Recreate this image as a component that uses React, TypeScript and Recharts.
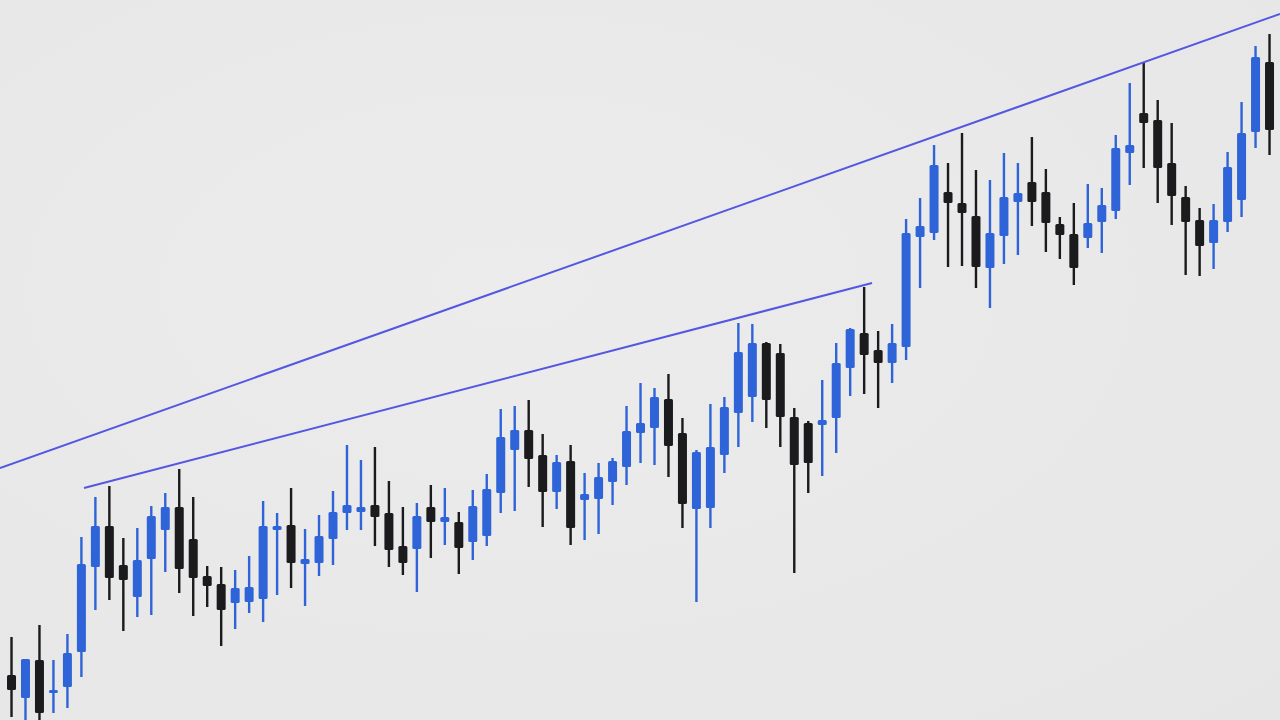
import { Bar, ComposedChart, ReferenceLine, XAxis, YAxis } from 'recharts'

// price levels (arbitrary units, 0 = bottom edge, 720 = top edge)
const opens = [
  45, 22, 60, 27, 33, 68, 153, 194, 155, 123, 161, 190, 213, 181, 144, 136, 117, 118, 121, 190,
  195, 156, 157, 181, 207, 208, 215, 207, 174, 171, 213, 198, 198, 178, 184, 227, 270, 290, 265, 228,
  259, 220, 221, 238, 253, 287, 292, 321, 287, 211, 212, 265, 307, 323, 377, 367, 303, 297, 295, 302,
  352, 387, 370, 357, 373, 483, 487, 528, 517, 504, 452, 484, 518, 538, 528, 496, 486, 482, 498, 509,
  567, 607, 600, 557, 523, 500, 477, 498, 520, 588, 658,
]
const highs = [
  83, 61, 95, 60, 86, 183, 223, 234, 182, 192, 214, 227, 251, 223, 154, 153, 150, 164, 219, 207,
  232, 191, 205, 229, 275, 260, 273, 239, 213, 217, 235, 232, 208, 230, 246, 311, 314, 320, 286, 265,
  275, 247, 257, 262, 314, 337, 332, 346, 302, 270, 316, 323, 397, 396, 378, 376, 312, 299, 340, 377,
  392, 433, 389, 396, 501, 522, 575, 557, 587, 550, 540, 567, 557, 583, 551, 503, 517, 536, 532, 585,
  637, 657, 620, 597, 534, 512, 516, 568, 618, 674, 686,
]
const lows = [
  3, 0, 0, 7, 12, 43, 110, 120, 89, 103, 105, 148, 127, 104, 113, 74, 91, 107, 98, 125,
  132, 114, 144, 155, 190, 190, 174, 153, 145, 128, 162, 175, 146, 160, 174, 207, 209, 233, 193, 211,
  175, 180, 186, 215, 235, 257, 255, 243, 192, 118, 192, 247, 273, 298, 292, 273, 147, 227, 244, 267,
  324, 326, 312, 337, 360, 432, 480, 453, 454, 432, 412, 456, 465, 494, 468, 461, 435, 472, 467, 501,
  535, 552, 517, 495, 445, 444, 451, 488, 503, 572, 565,
]
const closes = [
  30, 61, 7, 30, 67, 156, 194, 142, 140, 160, 204, 213, 151, 142, 134, 110, 132, 133, 194, 194,
  157, 161, 184, 208, 215, 213, 203, 170, 157, 204, 198, 203, 172, 214, 231, 283, 290, 261, 228, 258,
  192, 226, 243, 259, 289, 297, 323, 274, 216, 268, 273, 313, 368, 377, 320, 303, 255, 257, 300, 357,
  391, 365, 357, 377, 487, 494, 555, 517, 507, 453, 487, 523, 527, 518, 497, 485, 452, 497, 515, 572,
  575, 597, 552, 524, 498, 474, 500, 553, 587, 663, 590,
]

// trend lines in (candle index, price) units
const trendLines = [
  { x1: -0.86, y1: 252, x2: 90.71, y2: 706 },
  { x1: 5.15, y1: 232, x2: 61.53, y2: 437 },
]

const UP = '#2f64d8'
const DOWN = '#1b1b1d'
const TREND = '#5457e2'

const candles = opens.map((open, i) => ({
  i,
  open,
  high: highs[i],
  low: lows[i],
  close: closes[i],
  range: [lows[i], highs[i]],
}))

function Candle(props: any) {
  const { x, y, width, height, payload } = props
  if (x == null || y == null || !payload) return null
  const top = Math.min(y, y + height)
  const h = Math.abs(height)
  const span = payload.high - payload.low || 1
  const ppu = h / span
  const up = payload.close >= payload.open
  const color = up ? UP : DOWN
  const bodyTop = top + (payload.high - Math.max(payload.open, payload.close)) * ppu
  const bodyBottom = top + (payload.high - Math.min(payload.open, payload.close)) * ppu
  const cx = x + width / 2
  return (
    <g>
      <rect x={cx - 1.2} y={top} width={2.4} height={h} fill={color} />
      <rect
        x={x}
        y={bodyTop}
        width={width}
        height={Math.max(bodyBottom - bodyTop, 3)}
        rx={1.5}
        fill={color}
      />
    </g>
  )
}

export default function App() {
  return (
    <div
      style={{
        position: 'absolute',
        left: 0,
        top: 0,
        width: 1280,
        height: 720,
        background: 'radial-gradient(ellipse at 40% 40%, #ececec 0%, #e6e6e6 100%)',
      }}
    >
      <ComposedChart
        width={1280}
        height={720}
        data={candles}
        margin={{ top: 0, right: 0, left: 0, bottom: 0 }}
      >
        <XAxis
          dataKey="i"
          type="number"
          domain={[-0.8585, 90.715]}
          allowDataOverflow
          hide
        />
        <YAxis type="number" domain={[0, 720]} allowDataOverflow hide />
        {trendLines.map((t, idx) => (
          <ReferenceLine
            key={idx}
            segment={[
              { x: t.x1, y: t.y1 },
              { x: t.x2, y: t.y2 },
            ]}
            stroke={TREND}
            strokeWidth={2}
            ifOverflow="visible"
          />
        ))}
        <Bar dataKey="range" barSize={9} shape={<Candle />} isAnimationActive={false} />
      </ComposedChart>
    </div>
  )
}
